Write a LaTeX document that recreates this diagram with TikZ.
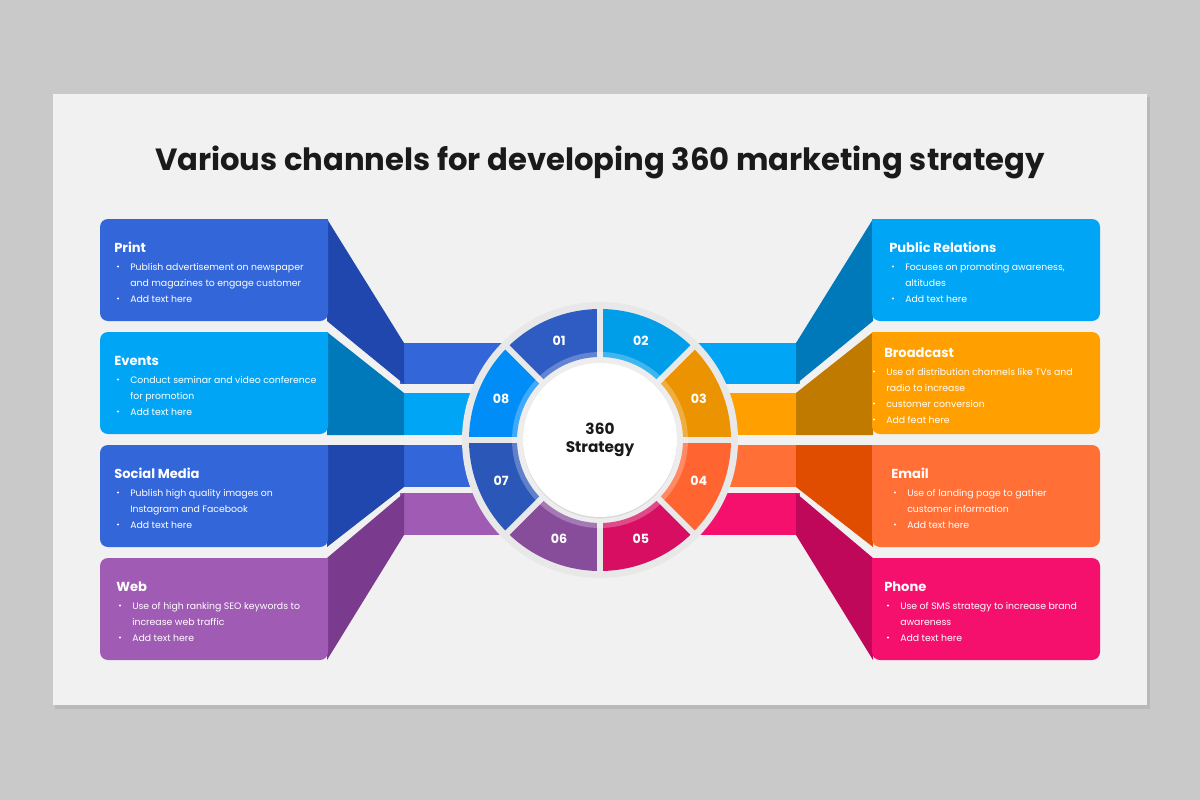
\documentclass[tikz,border=0pt]{standalone}
\usepackage{fontspec}
\setmainfont{Poppins}
\usetikzlibrary{shadows}
\definecolor{bg}{HTML}{C9C9C9}
\definecolor{slide}{HTML}{F1F1F1}
\definecolor{blueA}{HTML}{3366D9}\definecolor{blueD}{HTML}{1F47AE}
\definecolor{cyanA}{HTML}{00A6F5}\definecolor{cyanD}{HTML}{0079BB}
\definecolor{purA}{HTML}{A05BB5}\definecolor{purD}{HTML}{7A3A8E}
\definecolor{oraA}{HTML}{FFA000}\definecolor{oraD}{HTML}{C07A00}
\definecolor{redA}{HTML}{FF6F36}\definecolor{redD}{HTML}{E04C00}
\definecolor{pinA}{HTML}{F5106E}\definecolor{pinD}{HTML}{C0085A}
\definecolor{ttl}{HTML}{1A1A1A}
\definecolor{ringgap}{HTML}{E8E8E8}
\tikzset{
 ttlf/.style={anchor=base west,text=white,font=\fontsize{9.8}{11}\selectfont\bfseries,inner sep=0},
 txtf/.style={anchor=base west,text=white,font=\fontsize{7}{8}\selectfont,inner sep=0},
 numf/.style={text=white,font=\fontsize{9.5}{11}\selectfont\bfseries},
}
\newcommand\ttl[4]{\node[ttlf] (#1) at (#2,#3) {#4};}
\newcommand\bul[4]{\fill[white] (#2,#3-3.5) circle (1.1);\node[txtf] (#1) at (#2+12,#3) {#4};}
\newcommand\cnt[4]{\node[txtf] (#1) at (#2+12,#3) {#4};}
\begin{document}
\begin{tikzpicture}[x=0.75pt,y=-0.75pt]
\fill[bg] (0,0) rectangle (1200,800);
\fill[black,opacity=0.08] (55,97) rectangle (1150,709);
\fill[slide] (53,94) rectangle (1147,705);
\node[text=ttl,font=\fontsize{23}{26}\selectfont\bfseries] (title) at (600,162) {Various channels for developing 360 marketing strategy};
% left connectors
\fill[blueA] (400,343) rectangle (600,384);
\fill[cyanA] (400,393) rectangle (600,435);
\fill[blueA] (400,445) rectangle (600,487);
\fill[purA] (400,493) rectangle (600,535);
\fill[blueD] (327,219) -- (404,343) -- (404,384) -- (327,321) -- cycle;
\fill[cyanD] (327,332) -- (404,393) -- (404,435) -- (327,435) -- cycle;
\fill[blueD] (327,445) -- (404,445) -- (404,487) -- (327,547) -- cycle;
\fill[purD] (327,558) -- (404,493) -- (404,535) -- (327,660) -- cycle;
% right connectors
\fill[cyanA] (600,343) rectangle (800,384);
\fill[oraA] (600,393) rectangle (800,435);
\fill[redA] (600,445) rectangle (800,487);
\fill[pinA] (600,493) rectangle (800,535);
\fill[cyanD] (873,219) -- (796,343) -- (796,384) -- (873,321) -- cycle;
\fill[oraD] (873,332) -- (796,393) -- (796,435) -- (873,435) -- cycle;
\fill[redD] (873,445) -- (796,445) -- (796,487) -- (873,547) -- cycle;
\fill[pinD] (873,558) -- (796,493) -- (796,535) -- (873,660) -- cycle;
% left boxes
\fill[blueA,rounded corners=6] (328,219) -- (100,219) -- (100,321) -- (328,321) [sharp corners]-- cycle;
\fill[cyanA,rounded corners=6] (328,332) -- (100,332) -- (100,434) -- (328,434) [sharp corners]-- cycle;
\fill[blueA,rounded corners=6] (328,445) -- (100,445) -- (100,547) -- (328,547) [sharp corners]-- cycle;
\fill[purA,rounded corners=6] (328,558) -- (100,558) -- (100,660) -- (328,660) [sharp corners]-- cycle;
% right boxes
\fill[cyanA,rounded corners=6] (872,219) -- (1100,219) -- (1100,321) -- (872,321) [sharp corners]-- cycle;
\fill[oraA,rounded corners=6] (872,332) -- (1100,332) -- (1100,434) -- (872,434) [sharp corners]-- cycle;
\fill[redA,rounded corners=6] (872,445) -- (1100,445) -- (1100,547) -- (872,547) [sharp corners]-- cycle;
\fill[pinA,rounded corners=6] (872,558) -- (1100,558) -- (1100,660) -- (872,660) [sharp corners]-- cycle;
% texts left
\ttl{t1}{114}{252}{Print}
\bul{a1}{118}{270}{Publish advertisement on newspaper}
\cnt{b1}{118}{286}{and magazines to engage customer}
\bul{c1}{118}{302}{Add text here}
\ttl{t2}{114}{365}{Events}
\bul{a2}{118}{383}{Conduct seminar and video conference}
\cnt{b2}{118}{399}{for promotion}
\bul{c2}{118}{415}{Add text here}
\ttl{t3}{114}{478}{Social Media}
\bul{a3}{118}{496}{Publish high quality images on}
\cnt{b3}{118}{512}{Instagram and Facebook}
\bul{c3}{118}{528}{Add text here}
\ttl{t4}{116}{591}{Web}
\bul{a4}{120}{609}{Use of high ranking SEO keywords to}
\cnt{b4}{120}{625}{increase web traffic}
\bul{c4}{120}{641}{Add text here}
% texts right
\ttl{t5}{889}{252}{Public Relations}
\bul{a5}{893}{270}{Focuses on promoting awareness,}
\cnt{b5}{893}{286}{altitudes}
\bul{c5}{893}{302}{Add text here}
\ttl{t6}{884}{357}{Broadcast}
\bul{a6}{874}{375}{Use of distribution channels like TVs and}
\cnt{b6}{874}{391}{radio to increase}
\bul{c6}{874}{407}{customer conversion}
\bul{d6}{874}{423}{Add feat here}
\ttl{t7}{891}{478}{Email}
\bul{a7}{895}{496}{Use of landing page to gather}
\cnt{b7}{895}{512}{customer information}
\bul{c7}{895}{528}{Add text here}
\ttl{t8}{884}{591}{Phone}
\bul{a8}{888}{609}{Use of SMS strategy to increase brand}
\cnt{b8}{888}{625}{awareness}
\bul{c8}{888}{641}{Add text here}
% ring
\begin{scope}[shift={(600,440)}]
\fill[ringgap] (0,0) circle (138);
\foreach \a/\c in {90/blueA!90!black,45/cyanA!95!black,0/oraA!92!black,-45/redA!90!red,-90/pinA!88!black,-135/purA!85!black,180/blueA!85!black,135/cyanA!85!blue}{
 \fill[\c] (-\a:83) arc[start angle=-\a,end angle=-\a-45,radius=83] -- (-\a-45:131) arc[start angle=-\a-45,end angle=-\a,radius=131] -- cycle;}
\foreach \a in {0,45,...,315} \draw[ringgap,line width=4.5] (0,0) -- (\a:136);
\fill[white,opacity=0.25] (0,0) circle (88);
\fill[white,drop shadow={opacity=0.2,shadow xshift=0pt,shadow yshift=-1pt}] (0,0) circle (77);
\foreach \n/\a in {01/112.5,02/67.5,03/22.5,04/-22.5,05/-67.5,06/-112.5,07/-157.5,08/157.5}
  \node[numf] (n\n) at (-\a:107) {\n};
\node[align=center,text=ttl,font=\fontsize{11.5}{14}\selectfont\bfseries] (ctr) at (0,0) {360\\Strategy};
\end{scope}
\end{tikzpicture}
\end{document}
